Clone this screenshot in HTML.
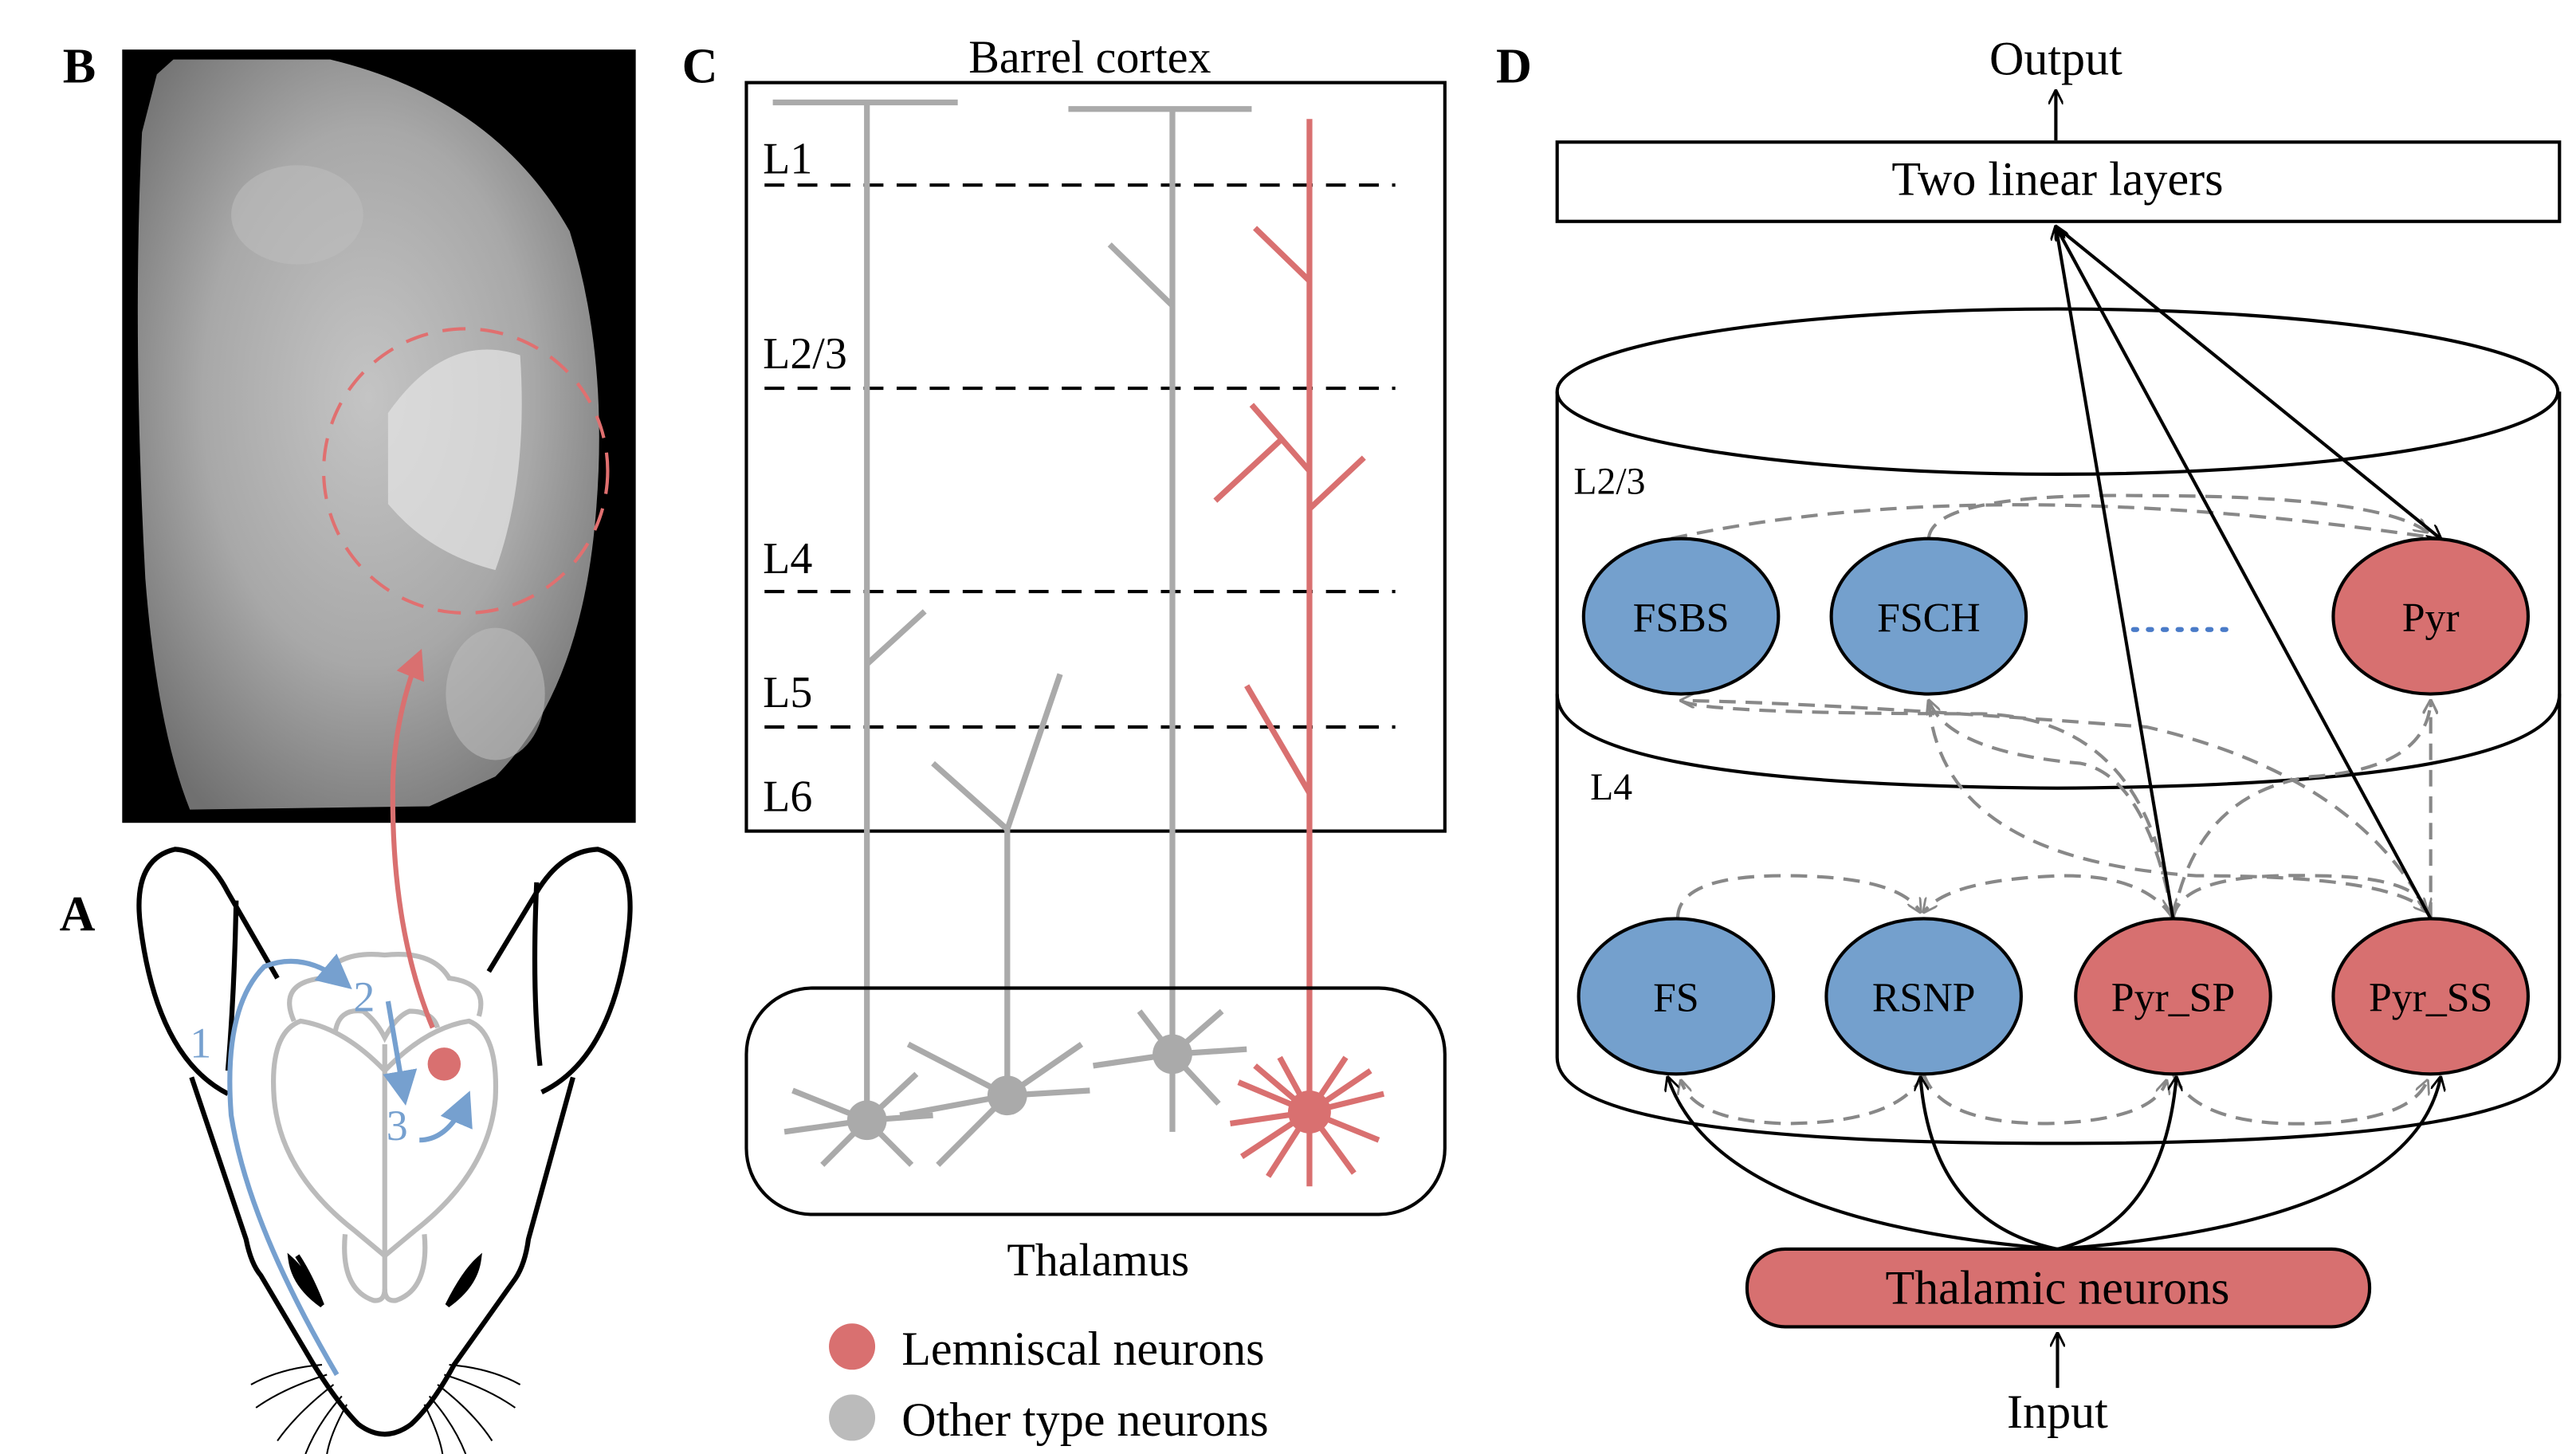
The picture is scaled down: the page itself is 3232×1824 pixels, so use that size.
<!DOCTYPE html>
<html><head><meta charset="utf-8"><style>
html,body{margin:0;padding:0;background:#fff;}
svg{display:block;}
text{font-family:"Liberation Serif",serif;}
</style></head><body>
<svg width="3232" height="1824" viewBox="0 0 1560 880" preserveAspectRatio="none" xmlns="http://www.w3.org/2000/svg">
<defs>
<marker id="ah" viewBox="0 0 10 10" refX="9" refY="5" markerWidth="9" markerHeight="9" orient="auto-start-reverse" markerUnits="userSpaceOnUse"><path d="M0,0 L10,5 L0,10" fill="none" stroke="#000" stroke-width="1.5"/></marker>
<marker id="ag" viewBox="0 0 10 10" refX="9" refY="5" markerWidth="9" markerHeight="9" orient="auto" markerUnits="userSpaceOnUse"><path d="M0,0 L10,5 L0,10" fill="none" stroke="#888" stroke-width="1.5"/></marker>
<marker id="ab" viewBox="0 0 10 10" refX="8" refY="5" markerWidth="7" markerHeight="7" orient="auto"><path d="M0,0 L10,5 L0,10 z" fill="#76a0cf"/></marker>
<marker id="ar" viewBox="0 0 10 10" refX="8" refY="5" markerWidth="6" markerHeight="6" orient="auto"><path d="M0,0 L10,5 L0,10 z" fill="#d97070"/></marker>
<radialGradient id="bg" cx="0.5" cy="0.45" r="0.65"><stop offset="0" stop-color="#c4c4c4"/><stop offset="0.55" stop-color="#a8a8a8"/><stop offset="1" stop-color="#707070"/></radialGradient>
</defs>

<!-- Panel B -->
<rect x="74" y="30" width="311" height="468" fill="#000"/>
<path d="M95,45 L105,36 L200,36 Q300,60 345,140 Q370,220 360,320 Q350,420 300,470 L260,488 L115,490 Q95,440 88,350 Q80,200 86,80 Z" fill="url(#bg)"/>
<g fill="#bdbdbd" opacity="0.6">
<ellipse cx="180" cy="130" rx="40" ry="30"/><ellipse cx="300" cy="420" rx="30" ry="40"/>
</g>
<path d="M235,250 Q270,200 315,215 Q320,290 300,345 Q260,335 235,305 Z" fill="#e2e2e2" opacity="0.75"/>
<ellipse cx="282" cy="285" rx="86" ry="86" fill="none" stroke="#e07070" stroke-width="2" stroke-dasharray="14,9"/>
<text x="38" y="50" font-size="30" font-weight="bold">B</text>
<text x="36" y="563" font-size="30" font-weight="bold">A</text>
<text x="413" y="50" font-size="30" font-weight="bold">C</text>
<text x="906" y="50" font-size="30" font-weight="bold">D</text>

<!-- Panel A mouse -->
<g fill="none" stroke="#000" stroke-width="3">
<path d="M138,662 Q95,640 85,560 Q80,520 106,514 Q125,515 138,540 L168,592"/>
<path d="M143,545 Q142,600 138,648"/>
<path d="M328,661 Q372,640 381,560 Q385,520 362,514 Q340,515 325,540 L296,588"/>
<path d="M325,534 Q322,600 327,645"/>
<path d="M116,652 L149,750 Q152,765 158,772 L190,826 Q205,850 217,862 Q233,874 249,862 Q262,850 275,826 L312,774 Q318,765 320,750 L347,652"/>
</g>
<g fill="none" stroke="#000" stroke-width="1">
<path d="M195,826 Q170,828 152,838"/><path d="M198,832 Q172,840 155,852"/><path d="M202,838 Q180,855 168,872"/><path d="M207,845 Q192,862 185,880"/><path d="M210,850 Q200,868 198,880"/>
<path d="M272,826 Q297,828 315,838"/><path d="M269,832 Q295,840 312,852"/><path d="M265,838 Q287,855 298,872"/><path d="M260,845 Q275,862 282,880"/><path d="M257,850 Q266,868 268,880"/>
</g>
<path d="M176,762 Q178,778 195,790 Q185,770 176,762Z M180,760 Q188,772 195,790" fill="#000" stroke="#000" stroke-width="3"/>
<path d="M290,762 Q288,778 271,790 Q281,770 290,762Z" fill="#000" stroke="#000" stroke-width="3"/>
<g fill="none" stroke="#bbb" stroke-width="3">
<path d="M178,618 Q168,595 195,592 Q205,575 233,578 Q262,575 272,592 Q296,595 290,615"/>
<path d="M233,648 Q208,622 182,618 Q163,625 166,665 Q170,710 215,745 L233,760 L251,745 Q296,710 300,665 Q302,625 284,618 Q258,622 233,648 Z"/>
<path d="M233,632 L233,785"/>
<path d="M209,747 Q206,780 226,787 Q233,788 233,780 Q233,788 240,787 Q260,780 257,747"/>
<path d="M203,625 Q205,610 220,612 Q228,618 233,628 Q240,615 248,612 Q262,612 265,622"/>
</g>
<circle cx="269" cy="644" r="10" fill="#d97070"/>
<g fill="none" stroke="#76a0cf" stroke-width="3">
<path d="M204,832 Q150,740 140,675 Q135,610 160,585 Q185,575 210,596" marker-end="url(#ab)"/>
<path d="M235,606 L245,665" marker-end="url(#ab)"/>
<path d="M254,690 Q272,690 283,664" marker-end="url(#ab)"/>
</g>
<g fill="#76a0cf" font-size="26"><text x="115" y="640">1</text><text x="214" y="612">2</text><text x="234" y="690">3</text></g>
<path d="M262,622 Q236,560 238,470 Q240,430 254,396" fill="none" stroke="#d97070" stroke-width="3" marker-end="url(#ar)"/>

<!-- Panel C -->
<rect x="452" y="50" width="423" height="453" fill="none" stroke="#000" stroke-width="2"/>
<text x="660" y="44" font-size="28" text-anchor="middle">Barrel cortex</text>
<g stroke="#000" stroke-width="2" stroke-dasharray="12,8"><line x1="463" y1="112" x2="845" y2="112"/><line x1="463" y1="235" x2="845" y2="235"/><line x1="463" y1="358" x2="845" y2="358"/><line x1="463" y1="440" x2="845" y2="440"/></g>
<g font-size="27"><text x="462" y="105">L1</text><text x="462" y="223">L2/3</text><text x="462" y="347">L4</text><text x="462" y="428">L5</text><text x="462" y="491">L6</text></g>
<g stroke="#aaa" stroke-width="3.5" fill="none">
<line x1="468" y1="62" x2="580" y2="62"/><line x1="525" y1="62" x2="525" y2="678"/><line x1="525" y1="402" x2="560" y2="370"/>
<line x1="525" y1="678" x2="480" y2="660"/><line x1="525" y1="678" x2="475" y2="685"/><line x1="525" y1="678" x2="555" y2="650"/><line x1="525" y1="678" x2="565" y2="675"/><line x1="525" y1="678" x2="498" y2="705"/><line x1="525" y1="678" x2="552" y2="705"/>
<line x1="610" y1="502" x2="610" y2="663"/><line x1="610" y1="502" x2="565" y2="462"/><line x1="610" y1="502" x2="642" y2="408"/>
<line x1="610" y1="663" x2="550" y2="632"/><line x1="610" y1="663" x2="568" y2="705"/><line x1="610" y1="663" x2="655" y2="632"/><line x1="610" y1="663" x2="660" y2="660"/><line x1="610" y1="663" x2="545" y2="675"/>
<line x1="647" y1="66" x2="758" y2="66"/><line x1="710" y1="66" x2="710" y2="685"/><line x1="710" y1="185" x2="672" y2="148"/>
<line x1="710" y1="638" x2="662" y2="645"/><line x1="710" y1="638" x2="690" y2="612"/><line x1="710" y1="638" x2="740" y2="612"/><line x1="710" y1="638" x2="755" y2="635"/><line x1="710" y1="638" x2="738" y2="668"/>
</g>
<g fill="#aaa"><circle cx="525" cy="678" r="12"/><circle cx="610" cy="663" r="12"/><circle cx="710" cy="638" r="12"/></g>
<g stroke="#d97070" stroke-width="3.5" fill="none">
<line x1="793" y1="72" x2="793" y2="718"/><line x1="793" y1="170" x2="760" y2="138"/>
<line x1="793" y1="285" x2="758" y2="245"/><line x1="736" y1="303" x2="776" y2="266"/><line x1="793" y1="308" x2="826" y2="277"/>
<line x1="793" y1="480" x2="755" y2="415"/>
<line x1="793" y1="673" x2="745" y2="680"/><line x1="793" y1="673" x2="750" y2="655"/><line x1="793" y1="673" x2="760" y2="645"/><line x1="793" y1="673" x2="775" y2="640"/><line x1="793" y1="673" x2="815" y2="640"/><line x1="793" y1="673" x2="830" y2="648"/><line x1="793" y1="673" x2="838" y2="662"/><line x1="793" y1="673" x2="835" y2="690"/><line x1="793" y1="673" x2="820" y2="710"/><line x1="793" y1="673" x2="768" y2="712"/><line x1="793" y1="673" x2="752" y2="700"/>
</g>
<circle cx="793" cy="673" r="13" fill="#d97070"/>
<rect x="452" y="598" width="423" height="137" rx="40" fill="none" stroke="#000" stroke-width="2"/>
<text x="665" y="772" font-size="28" text-anchor="middle">Thalamus</text>
<circle cx="516" cy="815" r="14" fill="#d97070"/><text x="546" y="826" font-size="29">Lemniscal neurons</text>
<circle cx="516" cy="858" r="14" fill="#bbb"/><text x="546" y="869" font-size="29">Other type neurons</text>

<!-- Panel D -->
<text x="1245" y="45" font-size="29" text-anchor="middle">Output</text>
<line x1="1245" y1="85" x2="1245" y2="55" stroke="#000" stroke-width="2" marker-end="url(#ah)"/>
<rect x="943" y="86" width="607" height="48" fill="#fff" stroke="#000" stroke-width="2"/>
<text x="1246" y="118" font-size="29" text-anchor="middle">Two linear layers</text>
<g fill="none" stroke="#000" stroke-width="2">
<ellipse cx="1246" cy="237" rx="303" ry="50"/>
<line x1="943" y1="237" x2="943" y2="640"/><line x1="1550" y1="237" x2="1550" y2="640"/>
<path d="M943,420 Q943,475 1246,477 Q1550,475 1550,420"/>
<path d="M943,640 Q943,692 1246,692 Q1550,692 1550,640"/>
</g>
<text x="953" y="299" font-size="23">L2/3</text>
<text x="963" y="484" font-size="23">L4</text>

<g fill="none" stroke="#888" stroke-width="2" stroke-dasharray="10,6">
<path d="M1012,326 Q1200,285 1478,326" marker-end="url(#ag)"/>
<path d="M1168,326 Q1170,298 1300,300 Q1440,300 1470,322" marker-end="url(#ag)"/>
<path d="M1316,556 Q1330,480 1400,470 Q1470,465 1472,424" marker-end="url(#ag)"/>
<path d="M1472,556 L1472,424" marker-end="url(#ag)"/>
<path d="M1316,556 Q1300,470 1260,462 Q1180,455 1168,424" marker-end="url(#ag)"/>
<path d="M1472,556 Q1430,470 1300,440 Q1100,425 1018,424" marker-end="url(#ag)"/>
<path d="M1168,424 Q1175,520 1330,530 Q1450,530 1470,552" marker-end="url(#ag)"/>
<path d="M1018,424 Q1030,432 1200,432 Q1300,435 1315,552" marker-end="url(#ag)"/>
<path d="M1016,556 Q1016,530 1080,530 Q1150,530 1163,552" marker-end="url(#ag)"/>
<path d="M1316,556 Q1300,530 1250,530 Q1180,532 1165,552" marker-end="url(#ag)"/>
<path d="M1316,556 Q1320,528 1400,530 Q1465,530 1470,552" marker-end="url(#ag)"/>
<path d="M1165,650 Q1150,680 1080,680 Q1025,678 1018,654" marker-end="url(#ag)"/>
<path d="M1165,650 Q1175,680 1240,680 Q1305,678 1312,654" marker-end="url(#ag)"/>
<path d="M1316,650 Q1330,682 1400,680 Q1460,678 1470,654" marker-end="url(#ag)"/>
</g>
<g stroke="#4a7bc8" stroke-width="3" stroke-dasharray="2,7" stroke-linecap="round"><line x1="1292" y1="381" x2="1350" y2="381"/></g>

<g stroke="#000" stroke-width="2">
<ellipse cx="1018" cy="373" rx="59" ry="47" fill="#74a0cd"/>
<ellipse cx="1168" cy="373" rx="59" ry="47" fill="#74a0cd"/>
<ellipse cx="1472" cy="373" rx="59" ry="47" fill="#d77070"/>
<ellipse cx="1015" cy="603" rx="59" ry="47" fill="#74a0cd"/>
<ellipse cx="1165" cy="603" rx="59" ry="47" fill="#74a0cd"/>
<ellipse cx="1316" cy="603" rx="59" ry="47" fill="#d77070"/>
<ellipse cx="1472" cy="603" rx="59" ry="47" fill="#d77070"/>
</g>
<g font-size="25" text-anchor="middle">
<text x="1018" y="382">FSBS</text><text x="1168" y="382">FSCH</text><text x="1472" y="382">Pyr</text>
<text x="1015" y="612">FS</text><text x="1165" y="612">RSNP</text><text x="1316" y="612">Pyr_SP</text><text x="1472" y="612">Pyr_SS</text>
</g>

<g fill="none" stroke="#000" stroke-width="2">
<line x1="1245" y1="137" x2="1478" y2="326" marker-end="url(#ah)"/>
<line x1="1316" y1="556" x2="1245" y2="137" marker-end="url(#ah)"/>
<line x1="1472" y1="556" x2="1245" y2="137" marker-end="url(#ah)"/>
<path d="M1246,756 Q1040,740 1010,652" marker-end="url(#ah)"/>
<path d="M1246,756 Q1170,740 1163,652" marker-end="url(#ah)"/>
<path d="M1246,756 Q1310,740 1318,652" marker-end="url(#ah)"/>
<path d="M1246,756 Q1460,740 1478,652" marker-end="url(#ah)"/>
</g>
<rect x="1058" y="756" width="377" height="47" rx="23" fill="#d77070" stroke="#000" stroke-width="2"/>
<text x="1246" y="789" font-size="29" text-anchor="middle">Thalamic neurons</text>
<line x1="1246" y1="840" x2="1246" y2="807" stroke="#000" stroke-width="2" marker-end="url(#ah)"/>
<text x="1246" y="864" font-size="29" text-anchor="middle">Input</text>
</svg>
</body></html>
